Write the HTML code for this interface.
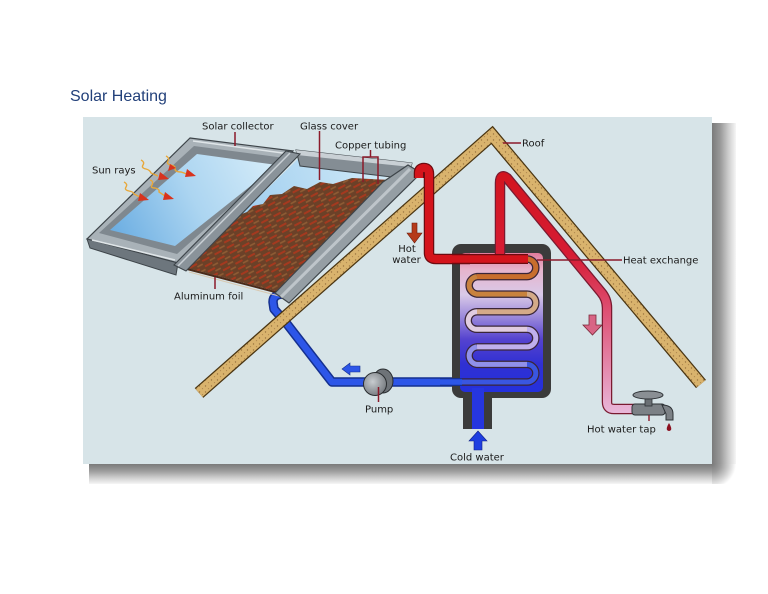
<!DOCTYPE html>
<html>
<head>
<meta charset="utf-8">
<style>
html,body{margin:0;padding:0;background:#fff;}
svg{display:block;}
</style>
</head>
<body>
<svg xmlns="http://www.w3.org/2000/svg" width="768" height="594" viewBox="0 0 768 594">
<defs>
  <linearGradient id="glassL" gradientUnits="userSpaceOnUse" x1="285" y1="150" x2="100" y2="245">
    <stop offset="0" stop-color="#dcf0fa"/>
    <stop offset="0.5" stop-color="#acd5f1"/>
    <stop offset="1" stop-color="#5fa6df"/>
  </linearGradient>
  <linearGradient id="glassR" gradientUnits="userSpaceOnUse" x1="380" y1="165" x2="240" y2="220">
    <stop offset="0" stop-color="#cfe9f7"/>
    <stop offset="1" stop-color="#9fcdef"/>
  </linearGradient>
  <linearGradient id="tankG" x1="0" y1="0" x2="0" y2="1">
    <stop offset="0" stop-color="#e07c9c"/>
    <stop offset="0.12" stop-color="#e6b4cc"/>
    <stop offset="0.3" stop-color="#d9c9e8"/>
    <stop offset="0.45" stop-color="#9f8ddc"/>
    <stop offset="0.62" stop-color="#5543cf"/>
    <stop offset="0.8" stop-color="#3030d2"/>
    <stop offset="1" stop-color="#2430dc"/>
  </linearGradient>
  <linearGradient id="hotG" gradientUnits="userSpaceOnUse" x1="0" y1="170" x2="0" y2="412">
    <stop offset="0" stop-color="#d2141e"/>
    <stop offset="0.35" stop-color="#d61c34"/>
    <stop offset="0.6" stop-color="#de5478"/>
    <stop offset="1" stop-color="#e8b6d8"/>
  </linearGradient>
  <linearGradient id="shR" x1="0" y1="0" x2="1" y2="0">
    <stop offset="0" stop-color="#7a7a7a"/>
    <stop offset="0.35" stop-color="#9a9a9a"/>
    <stop offset="0.7" stop-color="#cfcfcf"/>
    <stop offset="1" stop-color="#f6f6f6"/>
  </linearGradient>
  <linearGradient id="shB" x1="0" y1="0" x2="0" y2="1">
    <stop offset="0" stop-color="#7a7a7a"/>
    <stop offset="0.35" stop-color="#9c9c9c"/>
    <stop offset="0.7" stop-color="#d0d0d0"/>
    <stop offset="1" stop-color="#f6f6f6"/>
  </linearGradient>
  <radialGradient id="shC" gradientUnits="userSpaceOnUse" cx="712" cy="464" r="24">
    <stop offset="0" stop-color="#7a7a7a"/>
    <stop offset="0.35" stop-color="#9c9c9c"/>
    <stop offset="0.7" stop-color="#d0d0d0"/>
    <stop offset="1" stop-color="#ffffff"/>
  </radialGradient>
  <pattern id="cu" width="14" height="6" patternUnits="userSpaceOnUse" patternTransform="rotate(-28)">
    <rect width="14" height="6" fill="#6b4128"/>
    <rect x="0" y="0.5" width="8" height="2" fill="#a5391f"/>
    <rect x="7" y="3.6" width="6" height="1.6" fill="#8f5c34"/>
  </pattern>
  <pattern id="rf" width="6" height="6" patternUnits="userSpaceOnUse">
    <rect width="6" height="6" fill="#d9b36d"/>
    <circle cx="1.5" cy="2" r="0.7" fill="#9a7440"/>
    <circle cx="4.5" cy="4.6" r="0.6" fill="#b08850"/>
  </pattern>
  <radialGradient id="pumpG" cx="0.4" cy="0.4" r="0.7">
    <stop offset="0" stop-color="#c8ccd0"/>
    <stop offset="1" stop-color="#6e7378"/>
  </radialGradient>
</defs>

<rect width="768" height="594" fill="#ffffff"/>

<!-- Title -->
<text x="70" y="101" font-family="Liberation Sans, Arial, sans-serif" font-size="16" fill="#22407a">Solar Heating</text>

<!-- Shadow -->
<rect x="712" y="123" width="24" height="341" fill="url(#shR)"/>
<rect x="89" y="464" width="623" height="20" fill="url(#shB)"/>
<rect x="712" y="464" width="24" height="20" fill="url(#shC)"/>

<!-- Box -->
<rect x="83" y="117" width="629" height="347" fill="#d7e4e8"/>

<!-- Blue pipe (under roof) -->
<path d="M 462,382 L 332,382 L 287,324 L 274,309 L 273,302 Q 273,294 284,294" fill="none" stroke="#15308f" stroke-width="9.5" stroke-linejoin="round"/>
<path d="M 462,382 L 332,382 L 287,324 L 274,309 L 273,302 Q 273,294 284,294" fill="none" stroke="#2d56e8" stroke-width="6.5" stroke-linejoin="round"/>

<!-- Roof -->
<polyline points="199,393 492,135 701,384" fill="none" stroke="#4a3512" stroke-width="13" stroke-linejoin="miter" stroke-miterlimit="10"/>
<polyline points="199,393 492,135 701,384" fill="none" stroke="url(#rf)" stroke-width="10.5" stroke-linejoin="miter" stroke-miterlimit="10"/>

<!-- Left collector panel -->
<polygon points="190,138 293,151 178,263 87,239" fill="#a9b2b8" stroke="#3d4449" stroke-width="1.2"/>
<polygon points="194,146 285,158 177,254 99,233" fill="#7f888f"/>
<polygon points="197,154 277,165 175,246 110,230" fill="url(#glassL)"/>
<polygon points="87,239 178,263 176,275 90,248" fill="#6d767d" stroke="#3d4449" stroke-width="1"/>
<line x1="92" y1="240" x2="175" y2="260" stroke="#dfe5e8" stroke-width="1.5"/>
<line x1="193" y1="141" x2="290" y2="154" stroke="#dfe5e8" stroke-width="1.5"/>

<!-- Right panel base -->
<polygon points="299,158 392,171 280,292 186,268" fill="url(#glassR)"/>
<!-- Copper -->
<polygon points="390,180 352,178 333,184 320,182 307,189 294,186 282,194 270,195 263,204 253,206 247,212 239,215 187,268 279,292" fill="url(#cu)"/>
<line x1="187" y1="269" x2="279" y2="293" stroke="#4a2a18" stroke-width="2"/>
<line x1="189" y1="272" x2="279" y2="296" stroke="#d8c8b0" stroke-width="1"/>

<!-- Back rail of right panel -->
<polygon points="296,150 412,163 408,179 300,166" fill="#848d94" stroke="#3d4449" stroke-width="1"/>
<polygon points="296,150 412,163 411,167 297,155" fill="#c9d0d5"/>
<!-- Shared rail -->
<polygon points="286,151 300,154 186,271 174,265" fill="#8a939a" stroke="#3d4449" stroke-width="1.1"/>
<line x1="290" y1="153" x2="178" y2="266" stroke="#c9d0d5" stroke-width="1.5"/>
<!-- Right rail -->
<polygon points="383,182 408,165 421,173 289,303 275,293" fill="#959ea4" stroke="#3e454a" stroke-width="1.2"/>
<line x1="410" y1="169" x2="281" y2="297" stroke="#bec5ca" stroke-width="3"/>

<!-- Sun rays -->
<g fill="none" stroke="#e8a83a" stroke-width="1.4">
  <path d="M 166,156 q 4,2 2,5 q -2,3 3,4 q 5,1 4,4 q 0,3 6,3 l 6,2"/>
  <path d="M 141,160 q 4,2 2,5 q -2,3 3,4 q 4,1 5,4 l 7,3"/>
  <path d="M 150,180 q 4,1 2,5 q -2,3 3,3 q 5,1 4,4 l 6,4"/>
  <path d="M 124,182 q 4,2 2,5 q -2,3 3,4 q 5,1 5,3 l 6,3"/>
</g>
<g fill="#d8331e">
  <polygon points="187,169 196,176 185,177"/>
  <polygon points="160,172 169,179 158,180"/>
  <polygon points="165,192 174,199 163,200"/>
  <polygon points="140,193 149,200 138,201"/>
  <polygon points="170,164 176,168 168,171"/>
</g>

<!-- Tank -->
<rect x="452" y="244" width="99" height="154" rx="9" fill="#3b3b3b"/>
<rect x="463" y="390" width="29" height="39" fill="#3b3b3b"/>
<rect x="460" y="253" width="83" height="139" rx="5" fill="url(#tankG)"/>
<rect x="472" y="388" width="12" height="41" fill="#2636e0"/>

<!-- Hot pipe 1 -->
<path d="M 419,178 L 419,173 Q 419,168 424,168 Q 429,168 429,174 L 429,253 Q 429,259 436,259 L 470,259" fill="none" stroke="#6e0a10" stroke-width="10.5" stroke-linejoin="round"/>
<path d="M 419,178 L 419,173 Q 419,168 424,168 Q 429,168 429,174 L 429,253 Q 429,259 436,259 L 470,259" fill="none" stroke="#d4141c" stroke-width="8" stroke-linejoin="round"/>

<!-- Hot pipe 2 -->
<path d="M 500,257 L 500,183 Q 500,173 507,178 L 601,292 Q 607,299 607,308 L 607,402 Q 607,409 614,409 L 637,409" fill="none" stroke="#7a1a30" stroke-width="10.5" stroke-linejoin="round"/>
<path d="M 500,257 L 500,183 Q 500,173 507,178 L 601,292 Q 607,299 607,308 L 607,402 Q 607,409 614,409 L 637,409" fill="none" stroke="url(#hotG)" stroke-width="8" stroke-linejoin="round"/>

<!-- Coil outline -->
<path d="M 455,259 L 527,259 A 8.8 8.8 0 0 1 527,276.6 L 477,276.6 A 8.8 8.8 0 0 0 477,294.1 L 527,294.1 A 8.8 8.8 0 0 1 527,311.7 L 477,311.7 A 8.8 8.8 0 0 0 477,329.3 L 527,329.3 A 8.8 8.8 0 0 1 527,346.9 L 477,346.9 A 8.8 8.8 0 0 0 477,364.4 L 527,364.4 A 8.8 8.8 0 0 1 527,382 L 455,382" fill="none" stroke="#3a2638" stroke-width="7.5"/>
<g fill="none" stroke-width="5">
  <path d="M 527,259 A 8.8 8.8 0 0 1 527,276.6 L 477,276.6" stroke="#c86e2c"/>
  <path d="M 477,276.6 A 8.8 8.8 0 0 0 477,294.1 L 527,294.1" stroke="#c8823e"/>
  <path d="M 527,294.1 A 8.8 8.8 0 0 1 527,311.7 L 477,311.7" stroke="#d4aa88"/>
  <path d="M 477,311.7 A 8.8 8.8 0 0 0 477,329.3 L 527,329.3" stroke="#e0cce0"/>
  <path d="M 527,329.3 A 8.8 8.8 0 0 1 527,346.9 L 477,346.9" stroke="#c0b0ec"/>
  <path d="M 477,346.9 A 8.8 8.8 0 0 0 477,364.4 L 527,364.4" stroke="#9090ea"/>
  <path d="M 527,364.4 A 8.8 8.8 0 0 1 527,382 L 455,382" stroke="#3a56e0"/>
</g>
<path d="M 452,259 L 528,259" fill="none" stroke="#6e0a10" stroke-width="10"/>
<path d="M 450,259 L 528,259" fill="none" stroke="#d4141c" stroke-width="7.5"/>
<path d="M 440,382 L 462,382" fill="none" stroke="#15308f" stroke-width="8"/>
<path d="M 440,382 L 462,382" fill="none" stroke="#2d56e8" stroke-width="5.5"/>

<!-- Pump -->
<ellipse cx="383" cy="381" rx="10" ry="12" fill="#6e7378" stroke="#2a2d30" stroke-width="1"/>
<circle cx="375" cy="384" r="11.5" fill="url(#pumpG)" stroke="#2a2d30" stroke-width="1"/>

<!-- Tap -->
<rect x="632" y="404" width="33" height="11" rx="3" fill="#7c8186" stroke="#2e3236" stroke-width="1"/>
<path d="M 662,405 Q 673,405 673,414 L 673,420 L 666,420 L 666,414 Z" fill="#7c8186" stroke="#2e3236" stroke-width="1"/>
<rect x="645" y="397" width="7" height="9" fill="#6a6f74" stroke="#2e3236" stroke-width="0.8"/>
<ellipse cx="648" cy="395" rx="15" ry="4" fill="#8a8f94" stroke="#2e3236" stroke-width="1"/>
<line x1="649" y1="415" x2="649" y2="421" stroke="#8b1a2a" stroke-width="1.4"/>
<path d="M 669,423 Q 666,428 667,430 Q 669,432 671,430 Q 672,428 669,423 Z" fill="#8b1020"/>

<!-- Arrows -->
<polygon points="412,223 417,223 417,233 422,233 414.5,243 407,233 412,233" fill="#b53a1a" stroke="#6a1a0a" stroke-width="0.6"/>
<polygon points="589,315 596,315 596,325 602,325 592.5,335 583,325 589,325" fill="#d86585" stroke="#7a2a3a" stroke-width="0.8"/>
<polygon points="342,369 350,363 350,366 360,366 360,372 350,372 350,375" fill="#2d56e8" stroke="#15308f" stroke-width="0.6"/>
<polygon points="478,431 487,441 482,441 482,450 474,450 474,441 469,441" fill="#1f3ee0" stroke="#10208a" stroke-width="0.6"/>

<!-- Leader lines -->
<g stroke="#8b1a2a" stroke-width="1.5" fill="none">
  <line x1="235" y1="132" x2="235" y2="146"/>
  <line x1="319.5" y1="131" x2="319.5" y2="180"/>
  <polyline points="363,182 363,157 378,157 378,184"/>
  <line x1="370.5" y1="150" x2="370.5" y2="157"/>
  <line x1="215" y1="277" x2="215" y2="289"/>
  <line x1="503" y1="143" x2="521" y2="143"/>
  <line x1="537" y1="260" x2="622" y2="260"/>
  <line x1="378.5" y1="387" x2="378.5" y2="402"/>
</g>

<!-- Labels -->
<g font-family="DejaVu Sans, Verdana, sans-serif" font-size="10" fill="#1a1a1a">
  <text x="202" y="129.5">Solar collector</text>
  <text x="300" y="129.5">Glass cover</text>
  <text x="335" y="148.5">Copper tubing</text>
  <text x="92" y="173.5">Sun rays</text>
  <text x="174" y="299.5">Aluminum foil</text>
  <text x="407" y="252" text-anchor="middle">Hot</text>
  <text x="406.5" y="263" text-anchor="middle">water</text>
  <text x="522" y="146.5">Roof</text>
  <text x="623" y="263.5">Heat exchange</text>
  <text x="365" y="412.5">Pump</text>
  <text x="450" y="460.5">Cold water</text>
  <text x="587" y="432.5">Hot water tap</text>
</g>
</svg>
</body>
</html>
